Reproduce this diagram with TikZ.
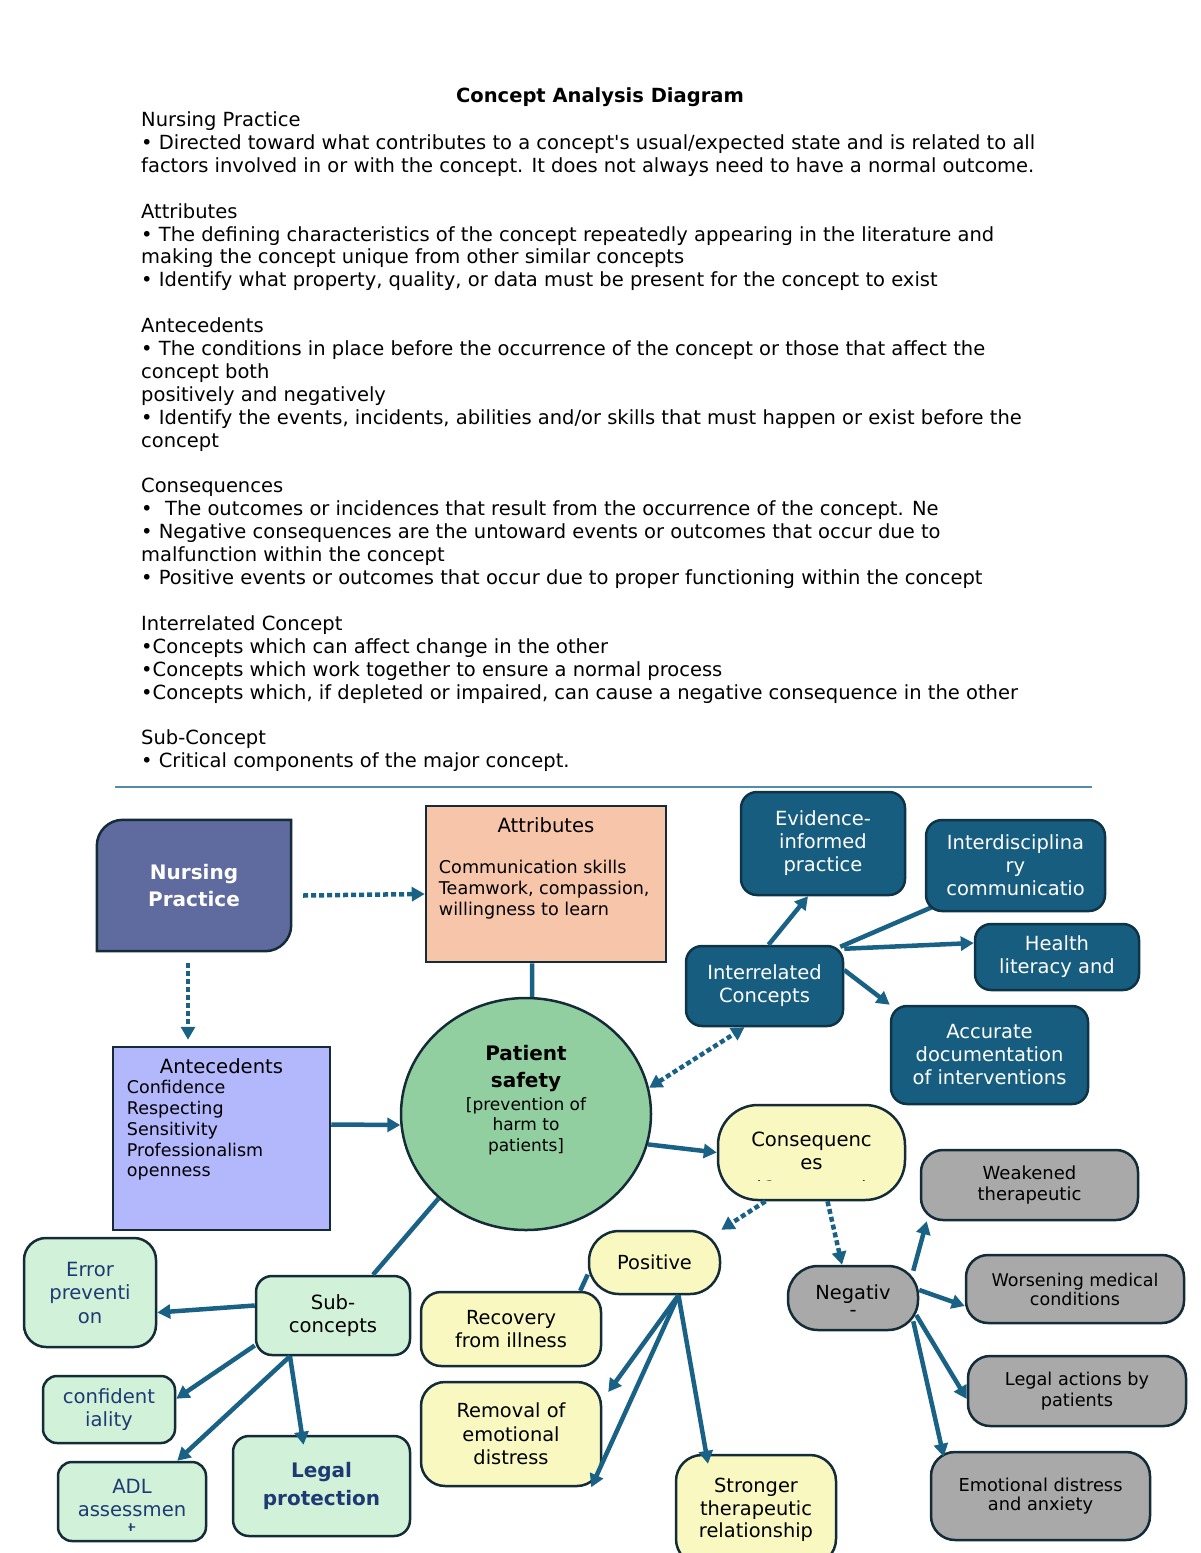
\documentclass[tikz,border=0pt]{standalone}
\usepackage{fontspec}
\setmainfont{DejaVu Sans}
\usetikzlibrary{arrows.meta,shapes.geometric,backgrounds,calc}
\definecolor{tealc}{HTML}{175D80}
\definecolor{tealbd}{HTML}{0E3447}
\definecolor{arrc}{HTML}{1A6186}
\definecolor{bd}{HTML}{142B38}
\definecolor{npc}{HTML}{5F6B9E}
\definecolor{attrc}{HTML}{F7C6AA}
\definecolor{antc}{HTML}{B3B7FC}
\definecolor{circc}{HTML}{92CFA0}
\definecolor{grnc}{HTML}{D1F2D9}
\definecolor{yelc}{HTML}{F8F8C0}
\definecolor{grayc}{HTML}{A9A9A9}
\definecolor{navyt}{HTML}{1F3A73}
\definecolor{divc}{HTML}{548AAA}
\tikzset{
  mytip/.tip={Triangle[length=13pt,width=14pt]},
  plain/.style={draw=arrc, line width=4.5pt},
  arr/.style={plain, -mytip},
  dotarr/.style={arr, dash pattern=on 5pt off 3pt},
  dotdbl/.style={plain, dash pattern=on 5pt off 3pt, mytip-mytip},
  basebox/.style={draw=bd, line width=2.5pt, inner sep=0pt, align=center},
  tealbox/.style={basebox, draw=tealbd, fill=tealc, rounded corners=16pt, text=white, font=\fontsize{19.5}{23}\selectfont},
  grnbox/.style={basebox, fill=grnc, text=navyt, font=\fontsize{19.6}{22.5}\selectfont},
  yelbox/.style={basebox, fill=yelc, text=black, font=\fontsize{19.4}{23}\selectfont},
  graybox/.style={basebox, fill=grayc, text=black, font=\fontsize{17.7}{20.5}\selectfont},
  lbl/.style={inner sep=0pt, align=center},
}
\begin{document}
\begin{tikzpicture}[x=1pt,y=-1pt]
\useasboundingbox (0,0) rectangle (1200,1553);

% ---------- header text ----------
\node[lbl, font=\bfseries\fontsize{19.5}{22}\selectfont] (title) at (600,97) {Concept Analysis Diagram};
\node[anchor=north west, inner sep=0pt, align=left, font=\fontsize{19.5}{22.9}\selectfont] (body) at (141,111.5) {%
Nursing Practice\\
• Directed toward what contributes to a concept\textquotesingle s usual/expected state and is related to all\\
factors involved in or with the concept. It does not always need to have a normal outcome.\\[22.9pt]
Attributes\\
• The defining characteristics of the concept repeatedly appearing in the literature and\\
making the concept unique from other similar concepts\\
• Identify what property, quality, or data must be present for the concept to exist\\[22.9pt]
Antecedents\\
• The conditions in place before the occurrence of the concept or those that affect the\\
concept both\\
positively and negatively\\
• Identify the events, incidents, abilities and/or skills that must happen or exist before the\\
concept\\[22.9pt]
Consequences\\
•\ \ The outcomes or incidences that result from the occurrence of the concept. Ne\\
• Negative consequences are the untoward events or outcomes that occur due to\\
malfunction within the concept\\
• Positive events or outcomes that occur due to proper functioning within the concept\\[22.9pt]
Interrelated Concept\\
•Concepts which can affect change in the other\\
•Concepts which work together to ensure a normal process\\
•Concepts which, if depleted or impaired, can cause a negative consequence in the other\\[22.9pt]
Sub-Concept\\
• Critical components of the major concept.};
\coordinate (divl) at (115,787);
\coordinate (divr) at (1092,787);
\draw[divc, line width=1.6pt] (divl) -- (divr);

% ---------- Nursing practice ----------
\node[lbl, minimum width=194pt, minimum height=131pt, text=white, font=\bfseries\fontsize{20}{27}\selectfont] (np) at (194,885.5) {Nursing\\Practice};
\begin{scope}[on background layer]
\draw[draw=bd, fill=npc, line width=2.5pt] (np.south west) -- ([yshift=-26pt]np.north west) arc[start angle=180,end angle=90,radius=26pt] -- (np.north east) -- ([yshift=26pt]np.south east) arc[start angle=0,end angle=-90,radius=26pt] -- cycle;
\end{scope}

% ---------- Attributes ----------
\node[basebox, fill=attrc, minimum width=240pt, minimum height=156pt] (attr) at (546,884) {};
\node[lbl, font=\fontsize{19.6}{23}\selectfont] (attrt) at ([yshift=-20pt]attr.north) {Attributes};
\node[inner sep=0pt, align=left, anchor=west, font=\fontsize{17.6}{21}\selectfont] (attrb) at ([xshift=14pt,yshift=-6pt]attr.west) {Communication skills\\Teamwork, compassion,\\willingness to learn};

% ---------- Antecedents ----------
\node[basebox, fill=antc, minimum width=217pt, minimum height=183pt] (ant) at (221.5,1138.5) {};
\node[lbl, font=\fontsize{19.6}{23}\selectfont] (antt) at ([yshift=-20pt]ant.north) {Antecedents};
\node[inner sep=0pt, align=left, anchor=west, font=\fontsize{17.5}{20.75}\selectfont] (antb) at ([xshift=15pt,yshift=8pt]ant.west) {Confidence\\Respecting\\Sensitivity\\Professionalism\\openness};

% ---------- Patient safety ----------
\node[ellipse, draw=bd, line width=2.5pt, fill=circc, minimum width=250pt, minimum height=232pt, inner sep=0pt] (circ) at (526,1114) {};
\node[lbl, font=\bfseries\fontsize{20}{27}\selectfont] (circt) at (526,1068.5) {Patient\\safety};
\node[lbl, font=\fontsize{17}{20.5}\selectfont] (circb) at (526,1126) {[prevention of\\harm to\\patients]};

% ---------- Interrelated concepts ----------
\node[tealbox, minimum width=157pt, minimum height=80pt] (ic) at (764.5,986) {Interrelated\\Concepts};
\node[tealbox, minimum width=164pt, minimum height=103pt] (ev) at (823,843.5) {Evidence-\\informed\\practice};
\node[tealbox, minimum width=179pt, minimum height=91pt] (id) at (1015.5,865.5) {Interdisciplina\\ry\\communicatio};
\node[tealbox, minimum width=164pt, minimum height=66pt] (hl) at (1057,957) {Health\\literacy and};
\node[tealbox, minimum width=197pt, minimum height=98pt] (ac) at (989.5,1055) {Accurate\\documentation\\of interventions};

% ---------- Consequences ----------
\node[yelbox, rounded corners=40pt, minimum width=187pt, minimum height=95pt] (cons) at (811.5,1152.5) {};
\node[lbl, font=\fontsize{19.6}{23}\selectfont] (consl) at (811.5,1150.5) {Consequenc\\es};
\begin{scope}
\clip (720,1168) rectangle (903,1180);
\node[lbl, font=\fontsize{19.6}{23}\selectfont] (conso) at (811.5,1189) {(Outcomes)};
\end{scope}

\node[yelbox, rounded corners=30pt, minimum width=131pt, minimum height=63pt] (pos) at (654.5,1262.5) {Positive};
\node[graybox, rounded corners=30pt, minimum width=130pt, minimum height=64pt] (neg) at (853,1298) {};
\node[lbl, font=\fontsize{19.4}{23}\selectfont] (negl) at (853,1294) {Negativ};
\node[lbl, font=\fontsize{19.4}{23}\selectfont] (negd) at (853,1313) {-};

\node[graybox, rounded corners=22pt, minimum width=217pt, minimum height=70pt, font=\fontsize{18}{21}\selectfont] (wk) at (1029.5,1185) {Weakened\\therapeutic};
\node[graybox, rounded corners=22pt, minimum width=218pt, minimum height=68pt, font=\fontsize{17.5}{19}\selectfont] (wm) at (1075,1289) {Worsening medical\\conditions};
\node[graybox, rounded corners=22pt, minimum width=218pt, minimum height=70pt] (la) at (1077,1391) {Legal actions by\\patients};
\node[graybox, rounded corners=24pt, minimum width=219pt, minimum height=88pt, font=\fontsize{17.8}{19}\selectfont] (ed) at (1040.5,1496) {Emotional distress\\and anxiety};

\node[yelbox, rounded corners=20pt, minimum width=180pt, minimum height=74pt] (rec) at (511,1329) {Recovery\\from illness};
\node[yelbox, rounded corners=24pt, minimum width=180pt, minimum height=104pt, font=\fontsize{19.4}{23.5}\selectfont] (rem) at (511,1434) {Removal of\\emotional\\distress};
\node[yelbox, rounded corners=26pt, minimum width=160pt, minimum height=110pt, font=\fontsize{19.4}{22.5}\selectfont] (str) at (756,1510) {Stronger\\therapeutic\\relationship};

% ---------- Sub-concepts ----------
\node[grnbox, rounded corners=16pt, minimum width=154pt, minimum height=79pt, text=black] (sub) at (333,1315.5) {Sub-\\concepts};
\node[grnbox, rounded corners=22pt, minimum width=132pt, minimum height=109pt, font=\fontsize{19.6}{23.5}\selectfont] (err) at (90,1292.5) {Error\\preventi\\on};
\node[grnbox, rounded corners=14pt, minimum width=132pt, minimum height=67pt] (conf) at (109,1409.5) {confident\\iality};
\node[grnbox, rounded corners=14pt, minimum width=148pt, minimum height=79pt] (adl) at (132,1501.5) {};
\node[lbl, text=navyt, font=\fontsize{19.6}{23}\selectfont] (adll) at (132,1497.5) {ADL\\assessmen};
\begin{scope}
\clip (62,1515) rectangle (202,1530);
\node[lbl, text=navyt, font=\fontsize{19.6}{23}\selectfont] (adlt) at (132,1531) {t};
\end{scope}
\node[grnbox, rounded corners=16pt, minimum width=177pt, minimum height=100pt, font=\bfseries\fontsize{20}{28}\selectfont] (lp) at (321.5,1486) {Legal\\protection};

% ---------- connectors ----------
\draw[dotarr] ([xshift=12pt,yshift=-10pt]np.east) -- ([yshift=-10pt]attr.west);
\coordinate (npb) at ([xshift=-6pt,yshift=-12pt]np.south);
\draw[dotarr, shorten >=6pt] (npb) -- (npb |- ant.north);
\draw[arr] ([yshift=14pt]ant.east) -- (circ.185);
\draw[plain] ([xshift=-14pt]attr.south) -- (circ.87);
\draw[dotdbl] (circ.12) -- ([xshift=-20pt]ic.south);

\draw[arr] ([xshift=4pt]ic.north) -- ([xshift=-15pt]ev.south);
\begin{scope}[on background layer]
\draw[plain] ([xshift=-4pt,yshift=-2pt]ic.north east) -- ([xshift=14pt,yshift=8pt]id.south west);
\end{scope}
\draw[arr] ([yshift=-4pt]ic.north east) -- ([yshift=14pt]hl.west);
\draw[arr] ([yshift=16pt]ic.east) -- (ac.north west);

\draw[arr] (circ.-14) -- (cons.west);
\draw[dotarr] ([xshift=-46pt]cons.south) -- (pos.north east);
\draw[dotarr] ([xshift=16pt]cons.south) -- ([xshift=-11pt]neg.north);

\draw[arr] ([xshift=-6pt,yshift=-6pt]neg.north east) -- ([xshift=7pt]wk.south west);
\draw[arr] ([yshift=8pt]neg.east) -- ([yshift=-17pt]wm.west);
\draw[arr] ([xshift=-3pt,yshift=-17pt]neg.east) -- ([yshift=-8pt]la.west);
\draw[arr] ([xshift=-6pt,yshift=10pt]neg.south east) -- ([xshift=14pt,yshift=-6pt]ed.north west);

\coordinate (pb) at ([xshift=24pt]pos.south);
\draw[arr] (pb) -- ([xshift=6pt,yshift=42pt]rem.east);
\draw[arr] (pb) -- ([xshift=-11pt]rem.south east);
\draw[arr] (pb) -- ([xshift=-48pt,yshift=-10pt]str.north);
\draw[plain] ([yshift=-12pt]pos.west) -- ([xshift=-22pt]rec.north east);

\draw[plain] (circ.224) -- ([xshift=40pt]sub.north);
\draw[arr] ([yshift=10pt]sub.west) -- ([yshift=-20pt]err.east);
\draw[arr] ([yshift=-30pt]sub.west) -- ([yshift=-24pt]conf.north east);
\coordinate (sb) at ([xshift=-43pt]sub.south);
\draw[arr] (sb) -- ([xshift=-30pt]adl.north east);
\draw[arr] (sb) -- ([xshift=-18pt,yshift=-10pt]lp.north);
\end{tikzpicture}
\end{document}
